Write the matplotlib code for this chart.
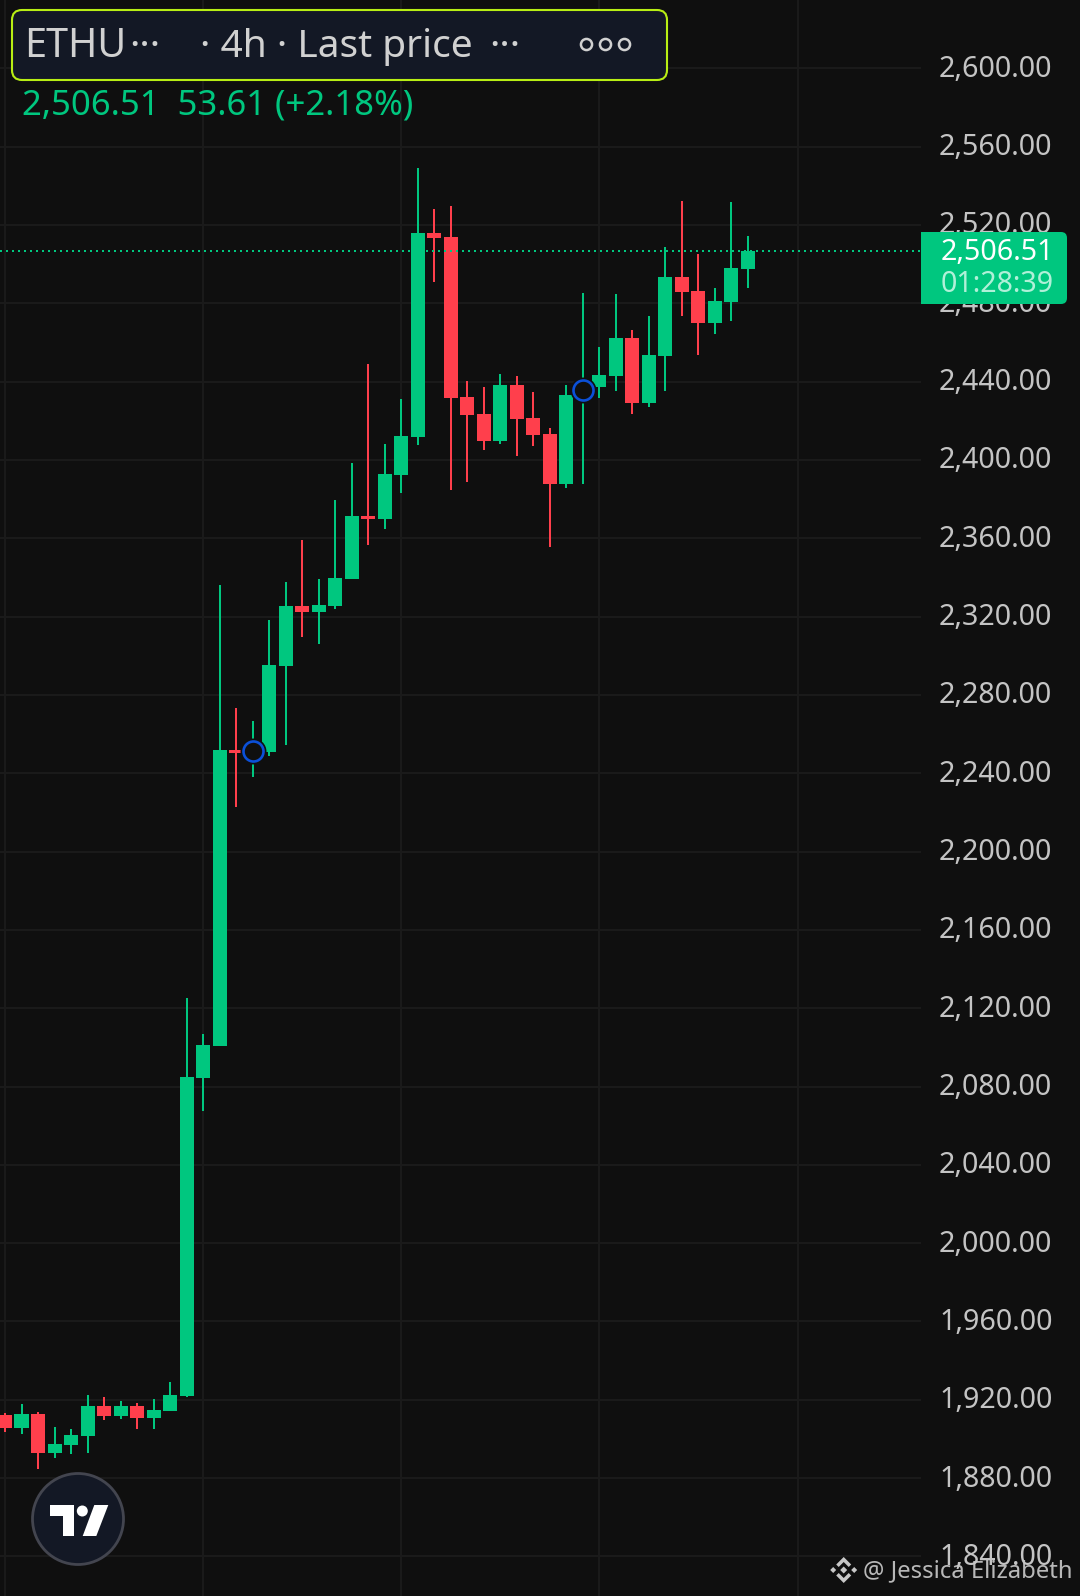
import numpy as np
import matplotlib
matplotlib.use('Agg')
import matplotlib.pyplot as plt
from matplotlib.patches import Circle, FancyBboxPatch, Polygon, Rectangle
from matplotlib.transforms import ScaledTranslation

# candle values, oldest first
opens = [1912.3, 1905.6, 1912.8, 1892.9, 1896.9, 1901.5, 1916.9, 1911.7, 1916.9, 1910.7,
         1914.3, 1922.0, 2084.4, 2100.7, 2251.9, 2249.3, 2250.9, 2294.8, 2325.4, 2322.4,
         2325.4, 2339.2, 2371.4, 2369.8, 2392.3, 2411.7, 2515.9, 2513.9, 2432.2, 2423.5,
         2409.7, 2438.3, 2421.4, 2413.3, 2387.7, 2433.2, 2437.3, 2442.9, 2462.3, 2429.1,
         2453.1, 2493.4, 2486.3, 2469.9, 2480.7, 2497.5]
highs = [1913.4, 1917.9, 1913.8, 1906.1, 1905.1, 1922.5, 1921.5, 1919.4, 1918.4, 1920.4,
         1929.1, 2125.2, 2106.8, 2336.1, 2273.3, 2266.7, 2318.3, 2337.7, 2359.1, 2339.2,
         2379.5, 2398.4, 2449.0, 2408.1, 2431.1, 2549.1, 2528.2, 2529.7, 2440.3, 2437.3,
         2443.9, 2442.9, 2434.7, 2416.3, 2438.3, 2485.3, 2457.7, 2484.8, 2466.4, 2473.5,
         2508.8, 2532.2, 2505.2, 2487.8, 2531.7, 2514.4]
lows = [1903.6, 1902.6, 1884.7, 1890.3, 1892.3, 1892.9, 1909.7, 1910.2, 1905.1, 1905.1,
        1914.3, 1921.5, 2067.5, 2100.7, 2222.8, 2238.1, 2248.8, 2254.4, 2309.6, 2306.0,
        2323.9, 2339.2, 2356.6, 2364.7, 2383.1, 2407.6, 2490.9, 2384.7, 2388.7, 2405.1,
        2408.1, 2402.0, 2407.1, 2355.5, 2385.7, 2387.7, 2431.6, 2435.2, 2423.5, 2427.0,
        2435.2, 2473.5, 2453.6, 2464.3, 2471.0, 2487.8]
closes = [1905.6, 1912.8, 1892.9, 1897.4, 1902.0, 1916.9, 1911.7, 1916.9, 1910.7, 1914.8,
          1922.5, 2084.9, 2101.2, 2251.9, 2250.3, 2252.4, 2295.3, 2325.4, 2322.4, 2325.9,
          2339.7, 2371.4, 2369.8, 2392.8, 2412.2, 2515.9, 2513.4, 2431.6, 2423.0, 2409.7,
          2438.3, 2420.9, 2412.7, 2387.7, 2433.2, 2437.3, 2443.4, 2462.3, 2429.1, 2453.6,
          2493.4, 2485.8, 2469.9, 2481.2, 2498.0, 2506.51]

price_ticks = [1840, 1880, 1920, 1960, 2000, 2040, 2080, 2120, 2160, 2200, 2240,
               2280, 2320, 2360, 2400, 2440, 2480, 2520, 2560, 2600]
time_grid = [0, 12, 24, 36, 48]
marker_idx = [15, 35]
marker_price = [2251.4, 2435.7]
last_price = 2506.51

BG = '#0F0F0F'
GRID = '#1A1A1A'
GREEN = '#00C77F'
RED = '#FF3F4C'
LABEL = '#C4C4C4'
FONT = 'Noto Sans'

plt.rcParams['font.family'] = [FONT, 'DejaVu Sans']

W, H = 1080, 1596
fig = plt.figure(figsize=(W / 100, H / 100), dpi=100, facecolor=BG)
ax = fig.add_axes([0, 0, 921 / W, 1], facecolor=BG)

opens = np.array(opens)
closes = np.array(closes)
x = np.arange(len(opens))
colors = [GREEN if c >= o else RED for o, c in zip(opens, closes)]

ax.vlines(x, lows, highs, colors=colors, linewidth=1.44, zorder=3)
ax.bar(x, np.abs(closes - opens), bottom=np.minimum(opens, closes), width=0.85,
       color=colors, linewidth=0, zorder=3)

ax.axhline(last_price, color=GREEN, linewidth=1.44, linestyle=(0, (1, 2)), zorder=4)

# the two blue rings sit on a halo of background colour
ax.plot(marker_idx, marker_price, 'o', ms=18.7, mfc=BG, mec='none', zorder=5)
ax.plot(marker_idx, marker_price, 'o', ms=14.4, mfc=BG, mec='#0B50D8', mew=1.9, zorder=6)

ax.set_xlim(-0.303, 55.48)
ax.set_ylim(1819.8, 2634.9)
ax.set_xticks(time_grid)
ax.set_xticklabels([])
ax.set_yticks(price_ticks)
ax.set_yticklabels([f'{p:,.2f}' for p in price_ticks], fontsize=20.6, color=LABEL)
ax.yaxis.tick_right()
ax.tick_params(axis='both', length=0)
ax.tick_params(axis='y', pad=13)
ax.grid(True, color=GRID, linewidth=1.44)
ax.set_axisbelow(True)
for s in ax.spines.values():
    s.set_visible(False)
# labels sit a little above their grid lines
nudge = ScaledTranslation(0, 2.5 / 100, fig.dpi_scale_trans)
for lab in ax.get_yticklabels():
    lab.set_transform(lab.get_transform() + nudge)

# overlay in pixel coordinates for the header, price tag, logos
ov = fig.add_axes([0, 0, 1, 1], facecolor='none')
ov.set_xlim(0, W)
ov.set_ylim(H, 0)
ov.axis('off')

ov.add_patch(FancyBboxPatch((12, 10), 655, 70, boxstyle='round,pad=0,rounding_size=10',
                            fc='#131825', ec='#B8EE14', lw=1.5))
ov.text(24, 57, 'ETHU', fontsize=28.5, color='#D1D1D1', va='baseline', ha='left')
ov.text(129, 57, '···', fontsize=28, color='#D1D1D1', va='baseline', ha='left')
ov.text(200, 57, '· 4h · Last price', fontsize=28, color='#D1D1D1', va='baseline', ha='left')
ov.text(489, 57, '···', fontsize=28, color='#D1D1D1', va='baseline', ha='left')
ov.plot([586, 605, 624], [44, 44, 44], 'o', ms=8, mfc='none', mec='#D1D1D1', mew=1.8)
ov.text(22, 106, '2,506.51  53.61 (+2.18%)', fontsize=25, color=GREEN, va='center', ha='left')

# last price tag
ov.add_patch(FancyBboxPatch((921, 232), 146, 72, boxstyle='round,pad=0,rounding_size=6',
                            fc=GREEN, ec='none'))
ov.add_patch(Rectangle((921, 232), 20, 72, fc=GREEN, ec='none'))
ov.text(941, 253, '2,506.51', fontsize=20.6, color='#FFFFFF', va='center', ha='left')
ov.text(941, 285, '01:28:39', fontsize=20.6, color='#B0F0D8', va='center', ha='left')

# tradingview badge
ov.add_patch(Circle((78, 1519), 45.5, fc='#131825', ec='#43454F', lw=2))
ov.add_patch(Polygon([(50, 1505), (74, 1505), (74, 1536), (63, 1536), (63, 1516), (50, 1516)],
                     fc='#FFFFFF', ec='none'))
ov.add_patch(Circle((82.3, 1511), 5.5, fc='#FFFFFF', ec='none'))
ov.add_patch(Polygon([(94.3, 1505), (108.3, 1505), (96.3, 1536), (82.7, 1536)],
                     fc='#FFFFFF', ec='none'))

# watermark
cx, cy = 843.7, 1570
for pts in ([(0, -13), (7.5, -5.5), (5, -3), (0, -8), (-5, -3), (-7.5, -5.5)],
            [(0, 13), (7.5, 5.5), (5, 3), (0, 8), (-5, 3), (-7.5, 5.5)],
            [(0, -3.5), (3.5, 0), (0, 3.5), (-3.5, 0)],
            [(-13.5, 0), (-10.5, -3), (-7.5, 0), (-10.5, 3)],
            [(13.5, 0), (10.5, -3), (7.5, 0), (10.5, 3)]):
    ov.add_patch(Polygon([(cx + a, cy + b) for a, b in pts], fc='#C8C8C8', ec='none'))
ov.text(863, 1571, '@ Jessica Elizabeth', fontsize=17.2, color='#C8C8C8', alpha=0.92,
        va='center', ha='left')

fig.savefig('out.png', dpi=100, facecolor=BG)
plt.close(fig)
